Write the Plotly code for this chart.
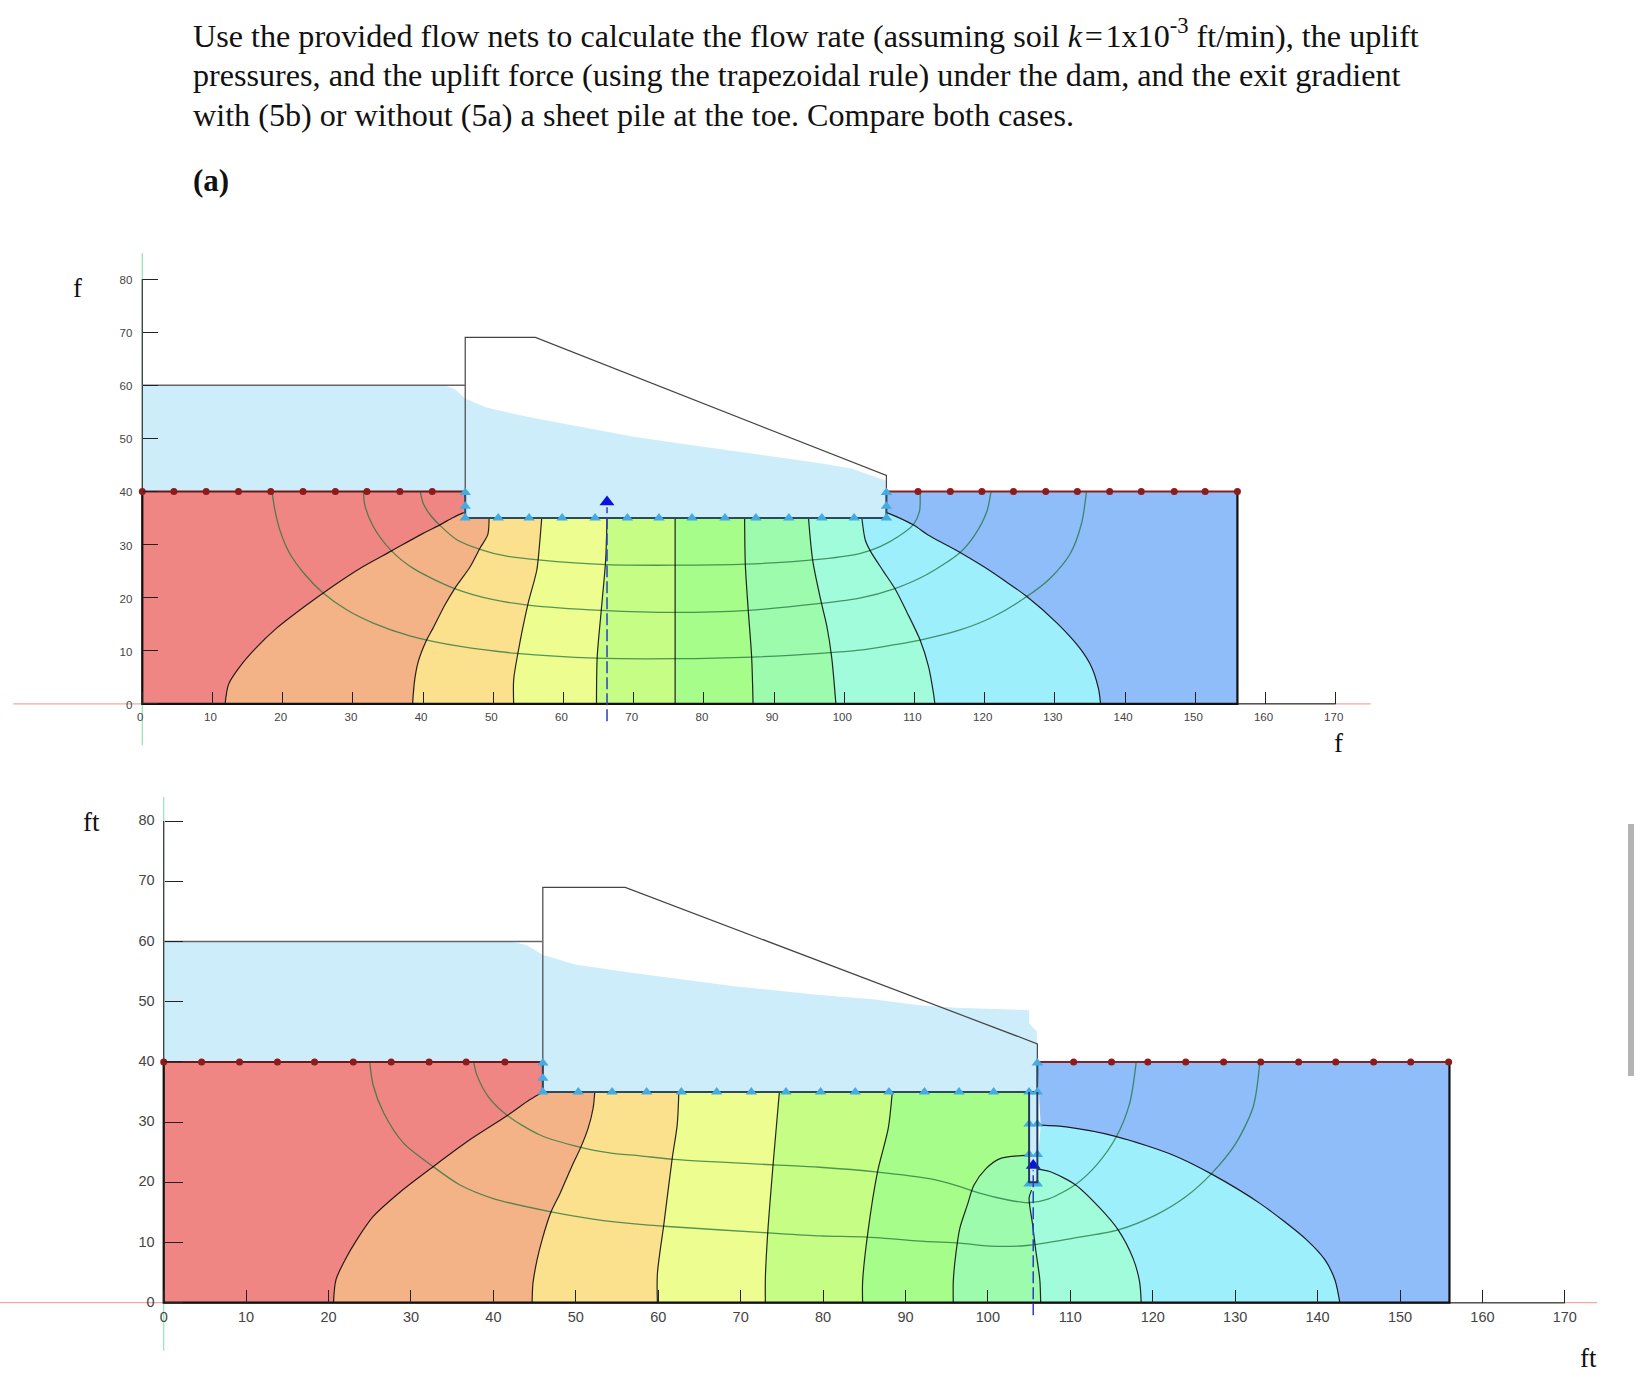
import plotly.graph_objects as go

W, H = 1640, 1395

# panel placement in pixels: where x=0 and y=0 fall, px per unit
A = dict(x0=142.3, sx=7.02, y0=703.8, sy=5.31, top=220, bottom=760)
B = dict(x0=163.7, sx=8.242, y0=1302.7, sy=6.02, top=780, bottom=1395)

x_ticks = list(range(0, 171, 10))
y_ticks = list(range(0, 81, 10))

region_colors = ['#EF8684', '#F3B386', '#FBE08E', '#EDFD90', '#C5FD85',
                 '#A6FD8A', '#9DFBAE', '#A0FCDB', '#9DEFFC', '#8EBDF9']

# ---- case (a): equipotential lines, top to bottom
a_left = [(46, 40), (0, 40), (0, 0)]
a_e1 = [(45.8, 36), (44.3, 35.1), (42.4, 33.7), (40, 32.1), (35.5, 28.8), (31, 25.5), (27.2, 22.2), (23.4, 18.6),
        (19.1, 14.2), (16.1, 10.4), (13.9, 7), (12.3, 3.7), (11.8, 0)]
a_e2 = [(49.4, 35), (49.2, 31.8), (48.1, 29.3), (46.7, 25.8), (44.5, 21.7), (43.1, 18.6), (41.4, 14.2), (40.5, 12),
        (39.3, 7.9), (38.8, 4.5), (38.5, 0)]
a_e3 = [(56.9, 35), (56.6, 30.2), (56.2, 25.2), (54.9, 18.6), (53.5, 9.5), (52.9, 4.5), (52.9, 0)]
a_e4 = [(66.2, 35), (66, 27), (65.4, 17.9), (64.8, 8.8), (64.7, 0)]
a_e5 = [(75.9, 35), (75.9, 0)]
a_e6 = [(85.8, 35), (85.9, 26.3), (86.3, 17.9), (86.8, 8.8), (87, 0)]
a_e7 = [(94.9, 35), (95.5, 27), (96.6, 19.8), (97.5, 14.7), (98.2, 8.8), (98.8, 0)]
a_e8 = [(102.5, 35), (103, 30.8), (103.7, 28.8), (105.6, 24.9), (107.2, 21.7), (108.9, 17.3), (110.8, 12), (112, 7),
        (112.7, 2), (112.9, 0)]
a_e9 = [(106, 36), (107.5, 35.2), (109.8, 33.7), (112.2, 31.6), (116.5, 28.5), (120, 25.7), (122.7, 23.3), (126, 20.2),
        (130.3, 15.2), (133.6, 10.4), (135.2, 7), (136.2, 2.9), (136.5, 0)]
a_right = [(106, 40), (156, 40), (156, 0)]

# flow lines
a_f1 = [(39.6, 40), (40, 37.8), (41, 35.6), (42.4, 33.6), (44.8, 30.9), (48.1, 29.1), (51.9, 27.8), (56.4, 27.1),
        (66.2, 26.2), (75.9, 26.1), (85.9, 26.3), (95.5, 27.1), (102.2, 28.3), (105.1, 29.6), (107.7, 31.5),
        (109.8, 33.7), (110.7, 36.2), (110.8, 40)]
a_f2 = [(31.5, 40), (31.7, 37.4), (32.9, 33.4), (35.5, 28.8), (38.6, 25.5), (44.5, 21.7), (50, 19.6), (54.9, 18.6),
        (65.4, 17.6), (75.9, 17.2), (86.3, 17.6), (96.6, 18.9), (102.2, 19.9), (107.2, 21.7), (111.7, 24.3),
        (116.5, 28.5), (118.6, 31.8), (120.3, 36.2), (120.9, 40)]
a_f3 = [(18.5, 40), (18.8, 37.1), (19.6, 32.7), (21, 28.3), (23.2, 24.3), (25.8, 20.8), (29.1, 17.7), (32.9, 15.2),
        (38.1, 12.8), (45.3, 10.8), (53.3, 9.5), (64.7, 8.6), (75.9, 8.5), (86.8, 8.8), (96.6, 9.5), (102.2, 10.1),
        (107, 11.1), (110.8, 12), (116.5, 13.9), (121.2, 16.4), (126, 20.2), (129.3, 23.6), (132.2, 28.3), (133.8, 34),
        (134.5, 40)]

a_dam = [(46, 35), (46, 69), (56, 69), (106, 43), (106, 35), (46, 35)]
a_water = [(0, 40), (0, 60), (43, 60), (44.5, 59.3), (46, 57.5), (49, 55.8), (55, 54), (61.7, 52.3), (70, 50.3),
           (76.6, 49), (85, 47.5), (96.6, 45.3), (101, 44.3), (106, 42), (106, 35), (46, 35), (46, 40)]
a_red_x = [0, 4.5, 9.1, 13.7, 18.3, 22.9, 27.5, 32, 36.7, 41.3, 110.5, 115.1, 119.6, 124.1, 128.7, 133.2, 137.8,
           142.3, 147, 151.4, 156]
a_tri = [(46, 39.8), (46, 37.2), (46, 35), (50.7, 35), (55.1, 35), (59.8, 35), (64.5, 35), (69.1, 35), (73.6, 35),
         (78.3, 35), (83, 35), (87.4, 35), (92.1, 35), (96.8, 35), (101.4, 35), (106, 35), (106, 37.2), (106, 39.8)]
a_dash = [(66.2, -3.3), (66.2, 37)]
a_arrow = (66.2, 38)

# ---- case (b): with the sheet pile
b_left = [(46, 40), (0, 40), (0, 0)]
b_e1 = [(46, 35), (44.4, 33.7), (41.7, 31.1), (37.4, 27.3), (32.7, 22.6), (28.7, 18.4), (25.4, 14.3), (23.4, 10.4),
        (22, 7.1), (20.9, 3.8), (20.6, 0)]
b_e2 = [(52.3, 35), (52.1, 32.3), (51.5, 29), (50.6, 25.8), (49.5, 22.6), (48.1, 18.2), (47, 15.1), (45.9, 10.4),
        (45.3, 7.1), (44.8, 3.2), (44.7, 0)]
b_e3 = [(62.5, 35), (62.3, 29.5), (61.7, 24), (60.7, 13.2), (59.9, 4.8), (59.9, 0)]
b_e4 = [(74.7, 35), (74, 24), (73.3, 11.9), (73, 4.1), (73, 0)]
b_e5 = [(88.4, 35), (87.9, 28.9), (86.6, 21.7), (85.4, 11.3), (84.8, 3.5), (84.8, 0)]
b_e6 = [(104.9, 24.5), (101.4, 23.9), (99.8, 22.3), (98.3, 19.5), (97.5, 16.2), (96.6, 12.4), (96.1, 8), (95.8, 3.5),
        (95.8, 0)]
b_e6_top = (105, 35)  # only closes the coloured band against the pile
b_e7 = [(105.3, 18.7), (105, 17.4), (105.4, 13.2), (105.8, 8.8), (106.3, 3.8), (106.4, 0)]
b_e8 = [(106, 22.2), (107.5, 21.8), (110.6, 19.6), (113.6, 15.7), (115.8, 12.1), (117.6, 7.4), (118.4, 3.5), (118.6, 0)]
b_e9 = [(106.4, 29.5), (109.5, 29.2), (115.6, 27.6), (122.5, 24.5), (127.1, 21.4), (133, 16.5), (138.7, 10.4),
        (140.9, 7.1), (142.1, 3.8), (142.7, 0)]
b_right = [(106, 40), (156, 40), (156, 0)]

b_f1 = [(37.6, 40), (38, 37.8), (39.4, 34.2), (41.7, 31.1), (45.6, 27.9), (50.6, 25.8), (54.1, 24.9), (57.8, 24.4),
        (61.9, 23.8), (74, 22.9), (79.6, 22.5), (86.6, 21.7), (92.9, 20.6), (96.6, 19.3), (99, 18.2), (102.3, 17.1),
        (104.9, 16.6), (107.3, 17.2), (110.6, 19.6), (113.2, 22.9), (115.6, 27.6), (117.2, 33.1), (118, 40)]
b_f2 = [(25, 40), (25.4, 36.2), (26.7, 31.5), (29.1, 26.5), (32.7, 22.6), (35.9, 19.6), (40, 17.3), (47, 15.1),
        (52.1, 13.9), (57.8, 13), (60.7, 12.7), (73.3, 11.6), (79.6, 11.1), (85.4, 10.9), (92.3, 10.2), (96.6, 9.9),
        (100.2, 9.4), (104.7, 9.5), (110.3, 10.7), (115.8, 12.1), (120.4, 14.6), (124, 17.6), (127.1, 21.4),
        (130.1, 26.5), (132.2, 32.6), (133, 40)]

b_dam = [(46, 35), (46, 69), (56, 69), (106, 43), (106, 35), (46, 35)]
b_pile = [(105, 35), (105, 20), (106, 20), (106, 35)]
b_water = [(0, 40), (0, 60), (42, 60), (44, 59.4), (46, 57.8), (49.9, 56.2), (56.3, 54.9), (69, 52.6), (79.6, 51.1),
           (86, 50.4), (91.7, 49.4), (96.1, 49), (105, 48.6), (105, 46.4), (105.9, 45.1), (106, 43), (106, 20),
           (105, 20), (105, 35), (46, 35), (46, 40)]
b_red_x = [0, 4.6, 9.2, 13.8, 18.3, 23, 27.6, 32.2, 36.7, 41.4, 110.4, 115, 119.4, 124, 128.6, 133.1, 137.7, 142.2,
           146.8, 151.3, 155.9]
b_tri = [(46, 39.8), (46, 37.3), (46, 35), (50.3, 35), (54.4, 35), (58.6, 35), (62.8, 35), (67.1, 35), (71.3, 35),
         (75.5, 35), (79.7, 35), (83.9, 35), (88, 35), (92.3, 35), (96.5, 35), (100.7, 35), (105, 35), (106, 35),
         (106, 39.8), (105, 29.7), (106, 29.7), (105, 24.6), (106, 24.6), (105, 19.7), (106, 19.7)]
b_dash = [(105.5, -2.1), (105.5, 22)]
b_arrow = (105.5, 22.8)

text_lines = [
    'Use the provided flow nets to calculate the flow rate (assuming soil <i>k</i>\u200a=\u200a1x10<sup>-3</sup> ft/min), the uplift',
    'pressures, and the uplift force (using the trapezoidal rule) under the dam, and the exit gradient',
    'with (5b) or without (5a) a sheet pile at the toe. Compare both cases.',
]
text_y = [33.5, 75, 115]

fig = go.Figure()


def xs(pts):
    return [p[0] for p in pts]


def ys(pts):
    return [p[1] for p in pts]


def add(pts, ax, **kw):
    fig.add_trace(go.Scatter(x=xs(pts), y=ys(pts), xaxis='x' + ax, yaxis='y' + ax, hoverinfo='skip', **kw))


def draw_panel(ax, bands, lines, flows, dam, water, red_x, tri, dash, arrow, extent):
    # filled bands between neighbouring equipotentials
    for i, col in enumerate(region_colors):
        add(bands[i] + bands[i + 1][::-1], ax, mode='lines', fill='toself', fillcolor=col, line=dict(width=0))
    add(water, ax, mode='lines', fill='toself', fillcolor='#CEEDFB', line=dict(width=0))

    # origin lines running past the axes
    add([(extent[0], 0), (extent[1], 0)], ax, mode='lines', line=dict(color='#F2A9A0', width=1.2))
    add([(0, extent[2]), (0, extent[3])], ax, mode='lines', line=dict(color='#8FE6B0', width=1.2))
    add([(0, 0), (170, 0)], ax, mode='lines', line=dict(color='#555555', width=1.5))
    add([(0, 0), (0, 80)], ax, mode='lines', line=dict(color='#333333', width=1.2))

    for f in flows:
        add(f, ax, mode='lines', line=dict(color='rgba(35,115,60,0.75)', width=1.3, shape='spline', smoothing=0.8))
    for e in lines:
        add(e, ax, mode='lines', line=dict(color='rgba(0,0,0,0.85)', width=1.2, shape='spline', smoothing=0.8))

    # soil outline
    add([(0, 40), (0, 0), (156, 0), (156, 40)], ax, mode='lines', line=dict(color='#111111', width=2.2))

    # dam, water surface, ground surface
    add(dam, ax, mode='lines', line=dict(color='#444444', width=1.2))
    add([(46, 40), (46, 35), (106, 35), (106, 40)], ax, mode='lines', line=dict(color='#2A4A5E', width=2))
    add([(0, 60), (46, 60)], ax, mode='lines', line=dict(color='#666666', width=1.5))
    add([(0, 40), (46, 40)], ax, mode='lines', line=dict(color='#6B1A1A', width=2))
    add([(106, 40), (156, 40)], ax, mode='lines', line=dict(color='#8B2020', width=2))
    add([(v, 40) for v in red_x], ax, mode='markers', marker=dict(color='#8E1B1B', size=7, symbol='circle'))
    add(tri, ax, mode='markers', marker=dict(color='#45ABE2', size=10, symbol='triangle-up'))

    # section line with arrow
    add(dash, ax, mode='lines', line=dict(color='#2E3DC4', width=1.5, dash='12px,4px'))
    add([arrow], ax, mode='markers', marker=dict(color='#0A14DC', size=13, symbol='triangle-up'))


a_lines = [a_e1, a_e2, a_e3, a_e4, a_e5, a_e6, a_e7, a_e8, a_e9]
b_lines = [b_e1, b_e2, b_e3, b_e4, b_e5, b_e6, b_e7, b_e8, b_e9]
draw_panel('', [a_left] + a_lines + [a_right], a_lines,
           [a_f1, a_f2, a_f3], a_dam, a_water, a_red_x, a_tri, a_dash, a_arrow, (-18.4, 175, -7.8, 84.9))
b_bands = [b_left, b_e1, b_e2, b_e3, b_e4, b_e5, [b_e6_top] + b_e6, b_e7, b_e8, b_e9, b_right]
draw_panel('2', b_bands, b_lines,
           [b_f1, b_f2], b_dam, b_water, b_red_x, b_tri, b_dash, b_arrow, (-19.9, 173.9, -8, 84))
add(b_pile, '2', mode='lines', line=dict(color='#1F3A5F', width=2))


def axes(p, size, xlen, ylen, xshift, yshift, xoff, yoff):
    x_ax = dict(domain=[0, 1], range=[-p['x0'] / p['sx'], (W - p['x0']) / p['sx']], anchor='free',
                position=1 - p['y0'] / H, tickvals=x_ticks, ticks='inside', ticklen=xlen, tickcolor='#222222',
                showgrid=False, zeroline=False, showline=False, ticklabelstandoff=xoff, ticklabelshift=xshift,
                tickfont=dict(family='Liberation Sans', size=size, color='#444444'))
    y_ax = dict(domain=[1 - p['bottom'] / H, 1 - p['top'] / H],
                range=[(p['y0'] - p['bottom']) / p['sy'], (p['y0'] - p['top']) / p['sy']], anchor='free',
                position=p['x0'] / W, tickvals=y_ticks, ticks='inside', ticklen=ylen, tickcolor='#222222',
                showgrid=False, zeroline=False, showline=False, ticklabelstandoff=yoff, ticklabelshift=yshift,
                tickfont=dict(family='Liberation Sans', size=size, color='#444444'))
    return x_ax, y_ax


xa, ya = axes(A, 11.5, 12, 15, -2, 1, 5, 10)
xb, yb = axes(B, 14.5, 13, 18, 0, -1, 4, 9)

notes = []
for t, y in zip(text_lines, text_y):
    notes.append(dict(text=t, x=190.5 / W, y=1 - y / H, xref='paper', yref='paper', xanchor='left', yanchor='middle',
                      showarrow=False, font=dict(family='Liberation Serif', size=32.15, color='#111111')))
notes.append(dict(text='<b>(a)</b>', x=190.5 / W, y=1 - 180 / H, xref='paper', yref='paper', xanchor='left',
                  yanchor='middle', showarrow=False,
                  font=dict(family='Liberation Serif', size=31, color='#111111')))
for t, px, py in [('f', 77, 288), ('f', 1338, 743), ('ft', 91.5, 822), ('ft', 1588, 1358)]:
    notes.append(dict(text=t, x=px / W, y=1 - py / H, xref='paper', yref='paper', xanchor='center', yanchor='middle',
                      showarrow=False, font=dict(family='Liberation Serif', size=27, color='#111111')))

fig.update_layout(
    width=W, height=H, margin=dict(l=0, r=0, t=0, b=0),
    paper_bgcolor='white', plot_bgcolor='rgba(0,0,0,0)', showlegend=False,
    xaxis=xa, yaxis=ya, xaxis2=xb, yaxis2=yb,
    annotations=notes,
    # page scrollbar caught in the screenshot
    shapes=[dict(type='rect', xref='paper', yref='paper', x0=1628 / W, x1=1634 / W, y0=1 - 1076 / H, y1=1 - 824 / H,
                 fillcolor='#B4B4B4', line=dict(width=0))],
)

fig.write_html("out.html", config={'displayModeBar': False},
               post_script="document.body.style.margin='0';document.documentElement.style.overflow='hidden';")
